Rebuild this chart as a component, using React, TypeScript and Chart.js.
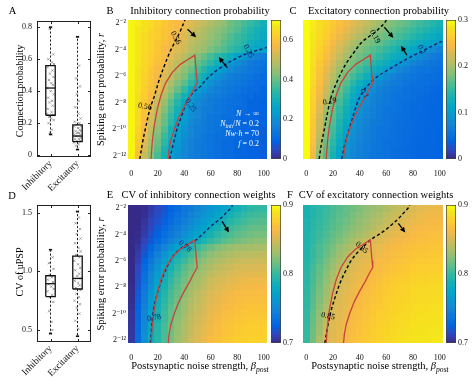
import React, { useEffect, useRef } from 'react';
import { Chart, registerables } from 'chart.js';

Chart.register(...registerables);

const FIG_W = 474;
const FIG_H = 388;
const SERIF = '"Liberation Serif", "DejaVu Serif", "Times New Roman", serif';
Chart.defaults.font.family = SERIF;
Chart.defaults.color = '#000';

// ---------------- Box-plot data (panels A, D) ----------------
const boxCategories = ['Inhibitory', 'Excitatory'];

const connMin = [0.13, 0.035];
const connQ1 = [0.25, 0.085];
const connMedian = [0.42, 0.12];
const connQ3 = [0.56, 0.19];
const connMax = [0.8, 0.74];
const connInhPoints = [0.80, 0.79, 0.63, 0.60, 0.58, 0.57, 0.55, 0.53, 0.51, 0.49, 0.47, 0.45, 0.44, 0.42, 0.40, 0.38, 0.36, 0.34, 0.33, 0.31, 0.29, 0.27, 0.26, 0.25, 0.24, 0.23, 0.22, 0.20, 0.16, 0.14, 0.13];
const connInhJitter = [0.02, -0.03, 0.10, -0.08, 0.05, 0.13, -0.11, 0.07, -0.02, 0.11, -0.06, 0.03, 0.09, -0.12, 0.01, 0.12, -0.09, 0.06, -0.04, 0.08, -0.10, 0.04, -0.13, 0.10, -0.05, 0.02, 0.12, -0.07, 0.05, -0.02, 0.03];
const connExcPoints = [0.74, 0.56, 0.48, 0.43, 0.38, 0.34, 0.30, 0.26, 0.23, 0.21, 0.20, 0.19, 0.18, 0.18, 0.17, 0.16, 0.15, 0.15, 0.14, 0.14, 0.13, 0.13, 0.12, 0.12, 0.11, 0.10, 0.10, 0.09, 0.09, 0.08, 0.07, 0.06, 0.04];
const connExcJitter = [0.01, 0.06, -0.05, 0.09, -0.02, 0.04, -0.08, 0.03, 0.11, -0.10, 0.07, -0.04, 0.13, -0.12, 0.02, 0.09, -0.07, 0.12, -0.01, 0.05, -0.11, 0.10, -0.06, 0.03, 0.12, -0.09, 0.06, -0.03, 0.10, -0.13, 0.04, -0.05, 0.00];
const connTicks = [0, 0.2, 0.4, 0.6, 0.8];
const connTickLabels = ['0', '0.2', '0.4', '0.6', '0.8'];

const cvMin = [0.47, 0.447];
const cvQ1 = [0.785, 0.85];
const cvMedian = [0.895, 0.94];
const cvQ3 = [0.963, 1.13];
const cvMax = [1.185, 1.51];
const cvInhPoints = [1.18, 1.12, 1.07, 1.02, 0.97, 0.95, 0.93, 0.91, 0.89, 0.87, 0.85, 0.83, 0.80, 0.78, 0.74, 0.66, 0.57, 0.50, 0.47];
const cvInhJitter = [0.00, 0.08, -0.06, 0.11, -0.03, 0.05, -0.10, 0.09, -0.07, 0.03, 0.12, -0.11, 0.06, -0.02, 0.10, -0.05, 0.04, 0.07, 0.00];
const cvExcPoints = [1.51, 1.46, 1.41, 1.36, 1.32, 1.28, 1.24, 1.20, 1.17, 1.14, 1.12, 1.09, 1.06, 1.03, 1.01, 0.98, 0.96, 0.94, 0.92, 0.90, 0.88, 0.86, 0.84, 0.81, 0.78, 0.75, 0.72, 0.69, 0.64, 0.58, 0.51, 0.45];
const cvExcJitter = [0.00, 0.05, -0.07, 0.09, -0.03, 0.11, -0.09, 0.04, 0.12, -0.05, 0.07, -0.12, 0.02, 0.10, -0.08, 0.06, -0.01, 0.13, -0.10, 0.03, 0.08, -0.06, 0.11, -0.04, 0.05, -0.11, 0.09, -0.02, 0.07, -0.08, 0.03, 0.00];
const cvTicks = [0.5, 1.0, 1.5];
const cvTickLabels = ['0.5', '1.0', '1.5'];

// ---------------- Heatmap grids (panels B, C, E, F) ----------------
const betaPost = [0, 5, 10, 15, 20, 25, 30, 35, 40, 45, 50, 55, 60, 65, 70, 75, 80, 85, 90, 95, 100];
const log2R = [-2, -2.5, -3, -3.5, -4, -4.5, -5, -5.5, -6, -6.5, -7, -7.5, -8, -8.5, -9, -9.5, -10, -10.5, -11, -11.5, -12];
const betaTicks = [0, 20, 40, 60, 80, 100];
const betaTickLabels = ['0', '20', '40', '60', '80', '100'];
const rTicks = [-2, -4, -6, -8, -10, -12];
const rTickLabels = ['2⁻²', '2⁻⁴', '2⁻⁶', '2⁻⁸', '2⁻¹⁰', '2⁻¹²'];

// B: inhibitory connection probability (x100), rows from r = 2^-2 down to 2^-12
const inhProb = [
  [69, 68, 66, 65, 63, 61, 59, 58, 56, 54, 52, 50, 48, 46, 44, 41, 39, 37, 35, 33, 31],
  [69, 67, 66, 64, 62, 60, 59, 57, 55, 53, 50, 48, 46, 44, 42, 40, 38, 35, 33, 31, 29],
  [69, 67, 65, 63, 62, 60, 58, 56, 54, 51, 49, 47, 45, 43, 41, 38, 36, 34, 32, 30, 28],
  [69, 67, 65, 63, 61, 59, 57, 55, 53, 50, 48, 46, 44, 42, 39, 37, 35, 33, 30, 28, 26],
  [69, 67, 65, 63, 61, 58, 56, 54, 52, 49, 47, 45, 42, 40, 38, 35, 33, 31, 28, 26, 25],
  [69, 67, 64, 62, 60, 58, 55, 52, 49, 46, 43, 40, 37, 34, 32, 29, 26, 22, 19, 17, 15],
  [69, 67, 64, 62, 59, 57, 53, 50, 47, 44, 40, 37, 34, 30, 27, 23, 20, 17, 15, 14, 13],
  [69, 66, 64, 61, 58, 55, 52, 48, 44, 41, 37, 33, 29, 26, 22, 19, 17, 15, 14, 13, 12],
  [69, 66, 63, 60, 57, 54, 50, 46, 42, 37, 33, 29, 25, 21, 18, 16, 15, 14, 13, 12, 11],
  [69, 66, 63, 60, 57, 52, 48, 43, 39, 34, 30, 25, 21, 18, 16, 15, 14, 13, 12, 11, 11],
  [69, 66, 62, 59, 56, 50, 45, 40, 35, 29, 24, 21, 18, 16, 15, 14, 13, 12, 11, 11, 10],
  [69, 65, 62, 58, 53, 48, 42, 36, 31, 25, 21, 18, 16, 15, 14, 13, 12, 11, 11, 10, 10],
  [69, 65, 61, 57, 51, 45, 39, 33, 27, 23, 19, 17, 15, 14, 13, 12, 12, 11, 10, 10, 9],
  [69, 64, 60, 55, 49, 43, 37, 31, 25, 21, 18, 16, 15, 14, 13, 12, 11, 11, 10, 10, 9],
  [69, 64, 59, 54, 48, 41, 35, 29, 24, 20, 18, 16, 14, 13, 12, 12, 11, 10, 10, 9, 9],
  [69, 64, 58, 52, 46, 40, 34, 28, 23, 19, 17, 15, 14, 13, 12, 11, 11, 10, 10, 9, 9],
  [69, 63, 57, 50, 44, 38, 31, 25, 21, 18, 16, 15, 14, 13, 12, 11, 11, 10, 10, 9, 8],
  [69, 62, 55, 49, 42, 36, 30, 24, 20, 18, 16, 14, 13, 12, 12, 11, 10, 10, 9, 9, 8],
  [69, 61, 54, 47, 41, 34, 28, 23, 19, 17, 15, 14, 13, 12, 11, 11, 10, 10, 9, 9, 8],
  [69, 60, 53, 46, 39, 32, 26, 22, 19, 17, 15, 14, 13, 12, 11, 11, 10, 10, 9, 9, 8],
  [69, 59, 51, 44, 37, 31, 24, 21, 18, 16, 15, 14, 13, 12, 11, 11, 10, 10, 9, 9, 8],
];

// C: excitatory connection probability (x1000)
const excProb = [
  [300, 291, 281, 272, 263, 253, 244, 235, 225, 216, 207, 197, 189, 182, 175, 169, 162, 155, 149, 142, 135],
  [300, 290, 279, 269, 259, 248, 238, 227, 217, 207, 196, 187, 180, 173, 166, 159, 153, 146, 139, 132, 125],
  [300, 288, 277, 265, 253, 241, 230, 218, 206, 195, 186, 179, 172, 165, 157, 150, 143, 136, 129, 122, 115],
  [300, 287, 273, 260, 246, 233, 220, 206, 193, 184, 176, 169, 161, 153, 146, 138, 131, 123, 115, 108, 100],
  [300, 285, 270, 255, 240, 225, 210, 195, 184, 175, 166, 158, 149, 140, 131, 123, 114, 105, 94, 82, 73],
  [300, 283, 267, 250, 233, 217, 200, 186, 176, 167, 157, 147, 137, 127, 118, 108, 97, 83, 74, 67, 61],
  [300, 282, 263, 245, 227, 208, 190, 179, 168, 156, 145, 134, 123, 111, 100, 85, 75, 68, 62, 58, 55],
  [300, 280, 259, 239, 219, 198, 182, 169, 156, 143, 130, 117, 104, 89, 78, 70, 64, 59, 56, 53, 51],
  [300, 278, 255, 233, 210, 188, 173, 158, 143, 127, 112, 97, 83, 74, 67, 61, 58, 55, 52, 50, 48],
  [300, 276, 251, 227, 202, 181, 164, 146, 128, 111, 94, 81, 73, 66, 61, 57, 54, 52, 50, 48, 46],
  [300, 273, 246, 220, 193, 172, 153, 133, 114, 96, 82, 73, 66, 61, 57, 54, 52, 50, 47, 45, 44],
  [300, 271, 242, 213, 186, 165, 144, 123, 102, 87, 76, 69, 63, 58, 55, 53, 50, 48, 46, 44, 43],
  [300, 269, 237, 206, 179, 158, 136, 115, 96, 82, 73, 66, 61, 57, 54, 51, 49, 47, 45, 44, 42],
  [300, 266, 231, 197, 172, 150, 129, 107, 89, 78, 70, 64, 59, 56, 53, 50, 48, 46, 44, 43, 42],
  [300, 263, 227, 190, 168, 145, 123, 100, 85, 75, 68, 62, 58, 55, 52, 50, 47, 46, 44, 43, 41],
  [300, 261, 221, 185, 162, 139, 116, 96, 82, 73, 66, 61, 57, 54, 51, 49, 47, 45, 44, 42, 41],
  [300, 259, 218, 183, 158, 134, 110, 91, 79, 71, 64, 59, 56, 53, 50, 48, 46, 45, 43, 42, 40],
  [300, 256, 212, 178, 153, 128, 103, 87, 76, 69, 63, 58, 55, 53, 50, 48, 46, 44, 43, 41, 40],
  [300, 252, 204, 172, 146, 121, 97, 83, 74, 67, 61, 57, 54, 52, 50, 47, 45, 44, 42, 41, 40],
  [300, 248, 195, 166, 140, 113, 92, 80, 72, 65, 60, 56, 53, 51, 48, 46, 45, 43, 42, 40, 39],
  [300, 244, 189, 162, 135, 108, 89, 78, 70, 64, 59, 56, 53, 50, 48, 46, 44, 43, 41, 40, 39],
];

// E: CV of inhibitory connection weights (x1000)
const inhCV = [
  [690, 696, 702, 708, 714, 720, 726, 732, 738, 744, 750, 756, 762, 768, 774, 780, 787, 793, 797, 799, 800],
  [690, 696, 703, 709, 716, 722, 729, 735, 741, 748, 754, 761, 767, 774, 780, 788, 794, 799, 802, 804, 805],
  [691, 698, 705, 712, 718, 725, 732, 739, 746, 753, 760, 766, 773, 780, 788, 795, 800, 804, 808, 809, 810],
  [692, 699, 707, 714, 722, 729, 737, 744, 752, 759, 767, 774, 782, 789, 796, 802, 807, 810, 813, 814, 815],
  [693, 701, 709, 717, 725, 733, 741, 749, 757, 765, 774, 782, 790, 797, 803, 808, 812, 816, 818, 820, 820],
  [694, 703, 712, 721, 730, 739, 748, 757, 766, 775, 783, 792, 799, 805, 811, 815, 819, 822, 824, 826, 826],
  [695, 706, 717, 728, 739, 750, 761, 772, 783, 793, 802, 810, 816, 822, 826, 829, 832, 833, 834, 835, 835],
  [696, 709, 721, 734, 747, 760, 772, 785, 795, 804, 812, 819, 825, 830, 834, 837, 839, 841, 841, 842, 842],
  [697, 711, 726, 740, 754, 769, 782, 794, 803, 812, 820, 826, 832, 836, 840, 843, 845, 847, 848, 848, 848],
  [698, 714, 730, 745, 761, 777, 789, 800, 810, 818, 826, 832, 837, 842, 845, 848, 850, 852, 852, 853, 853],
  [699, 716, 733, 750, 766, 782, 794, 805, 814, 823, 830, 836, 842, 846, 849, 852, 854, 856, 857, 857, 857],
  [700, 718, 736, 753, 771, 786, 798, 809, 818, 827, 834, 840, 846, 850, 853, 856, 858, 860, 861, 861, 861],
  [701, 720, 739, 757, 776, 790, 802, 812, 822, 830, 837, 843, 849, 853, 857, 859, 861, 863, 863, 864, 864],
  [702, 722, 742, 762, 781, 794, 806, 815, 825, 834, 841, 847, 852, 856, 860, 862, 864, 866, 867, 867, 867],
  [703, 724, 745, 765, 784, 797, 808, 818, 828, 836, 843, 849, 854, 858, 862, 864, 866, 868, 869, 869, 869],
  [704, 726, 747, 769, 787, 799, 811, 821, 830, 838, 845, 851, 856, 860, 864, 866, 868, 870, 871, 871, 871],
  [705, 728, 750, 773, 789, 802, 813, 823, 832, 840, 847, 853, 858, 862, 866, 868, 870, 872, 873, 873, 873],
  [705, 728, 752, 775, 791, 803, 815, 825, 834, 842, 849, 855, 860, 864, 868, 870, 872, 874, 875, 875, 875],
  [706, 730, 754, 779, 793, 806, 817, 827, 836, 844, 851, 857, 862, 866, 870, 872, 874, 876, 877, 877, 877],
  [706, 731, 756, 780, 794, 807, 818, 828, 837, 845, 852, 858, 863, 867, 871, 873, 875, 877, 878, 878, 878],
  [707, 732, 758, 782, 795, 808, 819, 830, 839, 847, 854, 860, 865, 869, 873, 875, 877, 879, 880, 880, 880],
];

// F: CV of excitatory connection weights (x1000)
const excCV = [
  [790, 794, 798, 802, 806, 810, 814, 818, 822, 826, 829, 833, 837, 841, 845, 849, 853, 856, 858, 860, 860],
  [790, 794, 798, 803, 807, 811, 815, 820, 824, 828, 832, 836, 841, 845, 849, 853, 856, 859, 861, 862, 862],
  [791, 795, 800, 804, 809, 813, 818, 822, 827, 831, 836, 840, 845, 849, 853, 856, 859, 861, 863, 864, 864],
  [791, 796, 801, 806, 810, 815, 820, 825, 829, 834, 839, 844, 849, 853, 856, 859, 862, 864, 865, 866, 866],
  [792, 797, 803, 808, 813, 818, 824, 829, 834, 839, 845, 850, 854, 857, 860, 862, 864, 866, 867, 868, 868],
  [792, 798, 804, 810, 816, 822, 828, 834, 840, 846, 852, 855, 858, 861, 863, 865, 867, 868, 869, 870, 870],
  [793, 800, 807, 813, 820, 827, 834, 840, 847, 852, 856, 859, 862, 864, 866, 868, 869, 871, 871, 872, 872],
  [793, 801, 808, 816, 823, 831, 838, 846, 852, 855, 858, 861, 864, 866, 868, 870, 872, 873, 873, 874, 874],
  [794, 802, 810, 819, 827, 835, 843, 851, 854, 858, 861, 864, 866, 869, 871, 872, 874, 875, 875, 876, 876],
  [795, 804, 813, 822, 830, 839, 848, 853, 857, 860, 863, 866, 869, 871, 873, 874, 876, 877, 877, 878, 878],
  [796, 806, 815, 825, 835, 844, 852, 856, 859, 862, 866, 868, 871, 873, 875, 876, 878, 879, 879, 880, 880],
  [796, 806, 817, 827, 838, 848, 853, 857, 861, 864, 867, 870, 873, 875, 877, 878, 880, 881, 881, 882, 882],
  [797, 808, 819, 830, 841, 851, 855, 859, 863, 866, 869, 872, 875, 877, 879, 880, 882, 883, 883, 884, 884],
  [797, 809, 821, 832, 844, 852, 856, 860, 864, 867, 870, 873, 876, 878, 880, 881, 883, 884, 884, 885, 885],
  [798, 810, 823, 835, 848, 854, 858, 862, 865, 869, 872, 874, 877, 879, 881, 882, 884, 885, 885, 886, 886],
  [798, 811, 825, 838, 850, 855, 859, 863, 866, 870, 873, 875, 878, 880, 882, 883, 885, 886, 886, 887, 887],
  [799, 813, 827, 842, 852, 856, 860, 864, 868, 871, 874, 877, 879, 881, 883, 884, 886, 887, 887, 888, 888],
  [799, 814, 829, 844, 853, 857, 861, 865, 869, 872, 875, 878, 880, 882, 884, 885, 887, 888, 888, 889, 889],
  [800, 816, 831, 847, 854, 858, 862, 866, 870, 873, 876, 879, 881, 883, 885, 886, 888, 889, 889, 890, 890],
  [800, 817, 833, 850, 855, 859, 863, 867, 871, 874, 877, 880, 882, 884, 886, 887, 889, 890, 890, 891, 891],
  [801, 818, 836, 851, 856, 860, 864, 868, 872, 875, 878, 880, 883, 885, 887, 888, 890, 891, 891, 892, 892],
];

// Contour lines (beta_post, log2 r)
const inhP56X = [6.4, 8.5, 11, 14, 17.4, 21, 25, 29, 32.7, 36.5, 40.5];
const inhP56Y = [-12.25, -11, -9.8, -8.5, -7.5, -6.3, -5.2, -4.2, -3.45, -2.7, -1.75];
const inhP25X = [29, 31.5, 34.5, 38, 41.7, 46, 51.9, 58, 67.2, 80, 90, 100, 103];
const inhP25Y = [-12.25, -11.2, -10, -9, -8, -7.3, -6.8, -6.1, -5.37, -4.6, -4.2, -3.9, -3.8];
const excP19X = [9.6, 11.5, 13.9, 16.2, 18.8, 23.5, 28.9, 35, 41.4, 47, 51.5, 55, 58.5, 60];
const excP19Y = [-12.25, -11, -9.8, -8.6, -7.5, -6.3, -5.2, -4.3, -3.45, -3.0, -2.7, -2.35, -2.0, -1.75];
const excP10X = [26.4, 29, 32.7, 36, 39, 42.5, 46.5, 53, 61.6, 70, 79, 88, 96.8, 103];
const excP10Y = [-12.25, -11.1, -9.8, -8.7, -7.8, -7.15, -6.65, -6.05, -5.5, -5.0, -4.5, -4.05, -3.6, -3.3];
const inhCV78X = [14.4, 15.2, 16.1, 18.3, 21.2, 24.7, 28.9, 33.5, 39.1, 44, 48.8, 54, 59.6, 64, 68.6, 72, 75, 76.5];
const inhCV78Y = [-12.25, -11.2, -10.2, -9.0, -7.96, -7.0, -6.07, -5.4, -4.93, -4.65, -4.42, -3.95, -3.41, -3.05, -2.66, -2.3, -2.0, -1.75];
const excCV85X = [13.9, 16, 18.8, 21.8, 25.2, 29.3, 33.9, 38.5, 42.7, 47.8, 53.5, 59.1, 64, 69.1, 73, 76.6, 77.5];
const excCV85Y = [-12.25, -11, -9.7, -8.7, -7.7, -6.8, -5.94, -5.35, -4.93, -4.42, -4.05, -3.67, -3.25, -2.78, -2.35, -1.95, -1.75];

// Highlighted region (red outline), same in all heatmaps
const regionX = [14.8, 15.8, 17.2, 19.6, 22.5, 26, 31, 37, 42.5, 48, 48.6, 49.3, 49.8, 47, 44, 40, 36, 32.5, 30, 28.5, 27.8, 14.8];
const regionY = [-12.4, -11, -9.8, -8.5, -7.4, -6.5, -5.7, -5.1, -4.75, -4.4, -5.2, -6.0, -6.5, -7.0, -7.6, -8.3, -9.1, -10.0, -10.8, -11.6, -12.4, -12.4];

// Arrows [x0, y0, x1, y1] in data units
const inhProbArrows = [[42.5, -2.45, 49, -3.05], [72.5, -5.35, 66, -4.55]];
const excProbArrows = [[58.5, -2.3, 65.3, -3.1], [75.4, -4.4, 71, -3.7]];
const inhCVArrows = [[68.6, -3.0, 73.8, -3.85]];
const excCVArrows = [[69, -3.15, 74.2, -3.85]];

// ---------------- colour map ----------------
const PARULA = [
  [0.2081, 0.1663, 0.5292], [0.1959, 0.2645, 0.7279], [0.0117, 0.3875, 0.882], [0.0498, 0.4586, 0.8641],
  [0.0793, 0.52, 0.8312], [0.0343, 0.5966, 0.8199], [0.0228, 0.6535, 0.7768], [0.0843, 0.6928, 0.7062],
  [0.2178, 0.725, 0.6193], [0.3953, 0.7459, 0.5244], [0.5709, 0.7485, 0.4494], [0.7184, 0.7411, 0.3905],
  [0.8507, 0.7299, 0.336], [0.9739, 0.7314, 0.2666], [0.988, 0.8066, 0.1794], [0.9589, 0.8949, 0.1132],
  [0.9763, 0.9831, 0.0538],
];
const PARULA_POS = [0, 4, 8, 12, 16, 20, 24, 28, 32, 36, 40, 44, 48, 52, 56, 60, 63].map((v) => v / 63);

function parula(t: number): string {
  const u = Math.max(0, Math.min(1, t));
  let k = 0;
  while (k < PARULA_POS.length - 2 && u > PARULA_POS[k + 1]) k++;
  const f = (u - PARULA_POS[k]) / (PARULA_POS[k + 1] - PARULA_POS[k]);
  const c = PARULA[k].map((v, i) => Math.round(255 * (v + (PARULA[k + 1][i] - v) * f)));
  return `rgb(${c[0]},${c[1]},${c[2]})`;
}

// ---------------- text helpers ----------------
type Run = { t: string; it?: boolean; sub?: boolean; sup?: boolean };
type TextSpec = { x: number; y: number; runs: Run[]; size: number; align?: 'left' | 'center' | 'right'; rot?: number; color?: string };

function drawRich(ctx: CanvasRenderingContext2D, s: TextSpec) {
  ctx.save();
  ctx.translate(s.x, s.y);
  if (s.rot) ctx.rotate((s.rot * Math.PI) / 180);
  ctx.fillStyle = s.color || '#000';
  ctx.textBaseline = 'middle';
  ctx.textAlign = 'left';
  const fonts = s.runs.map((r) => `${r.it ? 'italic ' : ''}${r.sub || r.sup ? (s.size * 0.72).toFixed(1) : s.size}px ${SERIF}`);
  const widths = s.runs.map((r, i) => {
    ctx.font = fonts[i];
    return ctx.measureText(r.t).width;
  });
  const total = widths.reduce((a, b) => a + b, 0);
  let cx = s.align === 'left' ? 0 : s.align === 'right' ? -total : -total / 2;
  s.runs.forEach((r, i) => {
    ctx.font = fonts[i];
    ctx.fillText(r.t, cx, r.sub ? s.size * 0.3 : r.sup ? -s.size * 0.35 : 0);
    cx += widths[i];
  });
  ctx.restore();
}

const textPlugin = (texts: TextSpec[]) => ({
  id: 'figText',
  afterDraw(chart: any) {
    texts.forEach((t) => drawRich(chart.ctx, t));
  },
});

type DataLabel = { x: number; y: number; t: string; rot: number; color: string };
const dataLabelPlugin = (labels: DataLabel[]) => ({
  id: 'dataLabels',
  afterDatasetsDraw(chart: any) {
    const { x, y } = chart.scales;
    labels.forEach((l) =>
      drawRich(chart.ctx, { x: x.getPixelForValue(l.x), y: y.getPixelForValue(l.y), runs: [{ t: l.t }], size: 8, rot: l.rot, color: l.color })
    );
  },
});

const arrowPlugin = (arrows: number[][]) => ({
  id: 'arrows',
  afterDatasetsDraw(chart: any) {
    const { ctx, scales } = chart;
    arrows.forEach(([a, b, c, d]) => {
      const x0 = scales.x.getPixelForValue(a), y0 = scales.y.getPixelForValue(b);
      const x1 = scales.x.getPixelForValue(c), y1 = scales.y.getPixelForValue(d);
      const ang = Math.atan2(y1 - y0, x1 - x0);
      const hl = 5.5, hw = 2.6;
      const bx = x1 - hl * Math.cos(ang), by = y1 - hl * Math.sin(ang);
      ctx.save();
      ctx.strokeStyle = '#000';
      ctx.fillStyle = '#000';
      ctx.lineWidth = 1.3;
      ctx.beginPath();
      ctx.moveTo(x0, y0);
      ctx.lineTo(bx, by);
      ctx.stroke();
      ctx.beginPath();
      ctx.moveTo(x1, y1);
      ctx.lineTo(bx + hw * Math.sin(ang), by - hw * Math.cos(ang));
      ctx.lineTo(bx - hw * Math.sin(ang), by + hw * Math.cos(ang));
      ctx.closePath();
      ctx.fill();
      ctx.restore();
    });
  },
});

const heatPlugin = (grid: number[][], div: number, vmin: number, vmax: number) => ({
  id: 'heat',
  beforeDatasetsDraw(chart: any) {
    const { ctx, chartArea: a, scales } = chart;
    const dx = (betaPost[1] - betaPost[0]) / 2;
    const dy = Math.abs(log2R[1] - log2R[0]) / 2;
    ctx.save();
    ctx.beginPath();
    ctx.rect(a.left, a.top, a.right - a.left, a.bottom - a.top);
    ctx.clip();
    grid.forEach((row, i) =>
      row.forEach((v, j) => {
        const x0 = Math.round(scales.x.getPixelForValue(betaPost[j] - dx));
        const x1 = Math.round(scales.x.getPixelForValue(betaPost[j] + dx));
        const y0 = Math.round(scales.y.getPixelForValue(log2R[i] + dy));
        const y1 = Math.round(scales.y.getPixelForValue(log2R[i] - dy));
        ctx.fillStyle = parula((v / div - vmin) / (vmax - vmin));
        ctx.fillRect(x0, y0, x1 - x0, y1 - y0);
      })
    );
    ctx.restore();
  },
});

const colorbarPlugin = (vmin: number, vmax: number) => ({
  id: 'cbar',
  beforeDatasetsDraw(chart: any) {
    const { ctx, chartArea: a, scales } = chart;
    const n = 64;
    for (let k = 0; k < n; k++) {
      const p0 = scales.y.getPixelForValue(vmin + ((vmax - vmin) * k) / n);
      const p1 = scales.y.getPixelForValue(vmin + ((vmax - vmin) * (k + 1)) / n);
      ctx.fillStyle = parula((k + 0.5) / n);
      ctx.fillRect(a.left, Math.floor(p1), a.right - a.left, Math.ceil(p0) - Math.floor(p1));
    }
    ctx.save();
    ctx.strokeStyle = '#444';
    ctx.lineWidth = 0.7;
    ctx.strokeRect(a.left + 0.35, a.top + 0.35, a.right - a.left - 0.7, a.bottom - a.top - 0.7);
    ctx.restore();
  },
});

const framePlugin = {
  id: 'frame',
  afterDatasetsDraw(chart: any) {
    const { ctx, chartArea: a, scales } = chart;
    ctx.save();
    ctx.strokeStyle = '#222';
    ctx.lineWidth = 1;
    ctx.strokeRect(Math.round(a.left) + 0.5, Math.round(a.top) + 0.5, Math.round(a.right - a.left) - 1, Math.round(a.bottom - a.top) - 1);
    ctx.beginPath();
    scales.y.ticks.forEach((t: any) => {
      const py = Math.round(scales.y.getPixelForValue(t.value)) + 0.5;
      ctx.moveTo(a.left, py);
      ctx.lineTo(a.left + 3, py);
      ctx.moveTo(a.right, py);
      ctx.lineTo(a.right - 3, py);
    });
    scales.x.ticks.forEach((t: any) => {
      const px = Math.round(scales.x.getPixelForValue(t.value)) + 0.5;
      ctx.moveTo(px, a.bottom);
      ctx.lineTo(px, a.bottom - 3);
      ctx.moveTo(px, a.top);
      ctx.lineTo(px, a.top + 3);
    });
    ctx.stroke();
    ctx.restore();
  },
};

// ---------------- chart builders ----------------
type Area = { l: number; t: number; r: number; b: number };
const pts = (xs: number[], ys: number[]) => xs.map((x, i) => ({ x, y: ys[i] }));

const baseOptions = {
  responsive: false,
  animation: false,
  devicePixelRatio: 1,
  events: [] as string[],
  plugins: { legend: { display: false }, tooltip: { enabled: false }, title: { display: false } },
};

function lineDs(data: { x: number; y: number }[], color: string, width: number, dash: number[] = [], tension = 0) {
  return { data, showLine: true, borderColor: color, borderWidth: width, borderDash: dash, pointRadius: 0, tension, fill: false };
}

type BoxPanel = {
  area: Area;
  min: number[]; q1: number[]; med: number[]; q3: number[]; max: number[];
  points: number[][]; jitter: number[][];
  yMin: number; yMax: number; yTicks: number[]; yTickLabels: string[];
  texts: TextSpec[];
};

const BOX_HALF = 0.175;
const CAP_HALF = 0.06;

function boxConfig(p: BoxPanel) {
  const YW = 26, XH = 40;
  const ds: any[] = [];
  boxCategories.forEach((_, i) => {
    const c = i + 1;
    ds.push(lineDs([{ x: c - BOX_HALF, y: p.q1[i] }, { x: c + BOX_HALF, y: p.q1[i] }, { x: c + BOX_HALF, y: p.q3[i] }, { x: c - BOX_HALF, y: p.q3[i] }, { x: c - BOX_HALF, y: p.q1[i] }], '#111', 1.3));
    ds.push(lineDs([{ x: c - BOX_HALF, y: p.med[i] }, { x: c + BOX_HALF, y: p.med[i] }], '#111', 1.3));
    ds.push(lineDs([{ x: c, y: p.q3[i] }, { x: c, y: p.max[i] }], '#222', 1, [2.2, 1.8]));
    ds.push(lineDs([{ x: c, y: p.q1[i] }, { x: c, y: p.min[i] }], '#222', 1, [2.2, 1.8]));
    ds.push(lineDs([{ x: c - CAP_HALF, y: p.max[i] }, { x: c + CAP_HALF, y: p.max[i] }], '#111', 1.6));
    ds.push(lineDs([{ x: c - CAP_HALF, y: p.min[i] }, { x: c + CAP_HALF, y: p.min[i] }], '#111', 1.6));
  });
  boxCategories.forEach((_, i) => {
    ds.push({
      data: p.points[i].map((v, k) => ({ x: i + 1 + p.jitter[i][k], y: v })),
      showLine: false, pointStyle: 'crossRot', pointRadius: 1.6, borderColor: '#8c8c8c', borderWidth: 0.8, backgroundColor: '#8c8c8c',
    });
  });
  return {
    type: 'scatter',
    data: { datasets: ds },
    options: {
      ...baseOptions,
      layout: { padding: { left: p.area.l - YW, top: p.area.t, right: FIG_W - p.area.r, bottom: FIG_H - p.area.b - XH } },
      scales: {
        x: {
          type: 'linear', min: 0.5, max: 2.5,
          afterBuildTicks: (ax: any) => { ax.ticks = boxCategories.map((_, i) => ({ value: i + 1 })); },
          afterFit: (s: any) => { s.height = XH; },
          ticks: { callback: (_v: any, i: number) => boxCategories[i], minRotation: 45, maxRotation: 45, autoSkip: false, padding: 1, font: { family: SERIF, size: 9.5 }, color: '#111' },
          grid: { display: false, drawTicks: false }, border: { display: false },
        },
        y: {
          type: 'linear', min: p.yMin, max: p.yMax,
          afterBuildTicks: (ax: any) => { ax.ticks = p.yTicks.map((v) => ({ value: v })); },
          afterFit: (s: any) => { s.width = YW; },
          ticks: { callback: (_v: any, i: number) => p.yTickLabels[i], padding: 5, autoSkip: false, font: { family: SERIF, size: 8 }, color: '#111' },
          grid: { display: false, drawTicks: false }, border: { display: false },
        },
      },
    },
    plugins: [framePlugin, textPlugin(p.texts)],
  };
}

type LineSpec = { xs: number[]; ys: number[]; color: string };
type HeatPanel = {
  area: Area; grid: number[][]; div: number; vmin: number; vmax: number; showYTicks: boolean;
  contours: LineSpec[]; labels: DataLabel[]; arrows: number[][]; texts: TextSpec[];
};

const REGION_COLOR = '#c9433a';

function heatConfig(p: HeatPanel) {
  const YW = 24, XH = 24;
  const dx = (betaPost[1] - betaPost[0]) / 2;
  const dy = Math.abs(log2R[1] - log2R[0]) / 2;
  const ds: any[] = [lineDs(pts(regionX, regionY), REGION_COLOR, 1.3)];
  p.contours.forEach((c) => ds.push(lineDs(pts(c.xs, c.ys), c.color, 1.4, [3.2, 2.4], 0.35)));
  return {
    type: 'scatter',
    data: { datasets: ds },
    options: {
      ...baseOptions,
      layout: { padding: { left: p.area.l - YW, top: p.area.t, right: FIG_W - p.area.r, bottom: FIG_H - p.area.b - XH } },
      scales: {
        x: {
          type: 'linear', min: betaPost[0] - dx, max: betaPost[betaPost.length - 1] + dx,
          afterBuildTicks: (ax: any) => { ax.ticks = betaTicks.map((v) => ({ value: v })); },
          afterFit: (s: any) => { s.height = XH; },
          ticks: { callback: (_v: any, i: number) => betaTickLabels[i], maxRotation: 0, autoSkip: false, padding: 10, font: { family: SERIF, size: 8 }, color: '#111' },
          grid: { display: false, drawTicks: false }, border: { display: false },
        },
        y: {
          type: 'linear', min: log2R[log2R.length - 1] - dy, max: log2R[0] + dy,
          afterBuildTicks: (ax: any) => { ax.ticks = rTicks.map((v) => ({ value: v })); },
          afterFit: (s: any) => { s.width = YW; },
          ticks: { display: p.showYTicks, callback: (_v: any, i: number) => rTickLabels[i], padding: 2, autoSkip: false, font: { family: SERIF, size: 8 }, color: '#111' },
          grid: { display: false, drawTicks: false }, border: { display: false },
        },
      },
    },
    plugins: [heatPlugin(p.grid, p.div, p.vmin, p.vmax), dataLabelPlugin(p.labels), arrowPlugin(p.arrows), textPlugin(p.texts)],
  };
}

function colorbarConfig(area: Area, vmin: number, vmax: number, ticks: number[], labels: string[]) {
  const YW = 22;
  return {
    type: 'scatter',
    data: { datasets: [] },
    options: {
      ...baseOptions,
      layout: { padding: { left: area.l, top: area.t, right: FIG_W - area.r - YW, bottom: FIG_H - area.b } },
      scales: {
        x: { type: 'linear', display: false, min: 0, max: 1 },
        y: {
          type: 'linear', position: 'right', min: vmin, max: vmax,
          afterBuildTicks: (ax: any) => { ax.ticks = ticks.map((v) => ({ value: v })); },
          afterFit: (s: any) => { s.width = YW; },
          ticks: { callback: (_v: any, i: number) => labels[i], padding: 2, autoSkip: false, font: { family: SERIF, size: 8 }, color: '#111' },
          grid: { display: false, drawTicks: false }, border: { display: false },
        },
      },
    },
    plugins: [colorbarPlugin(vmin, vmax)],
  };
}

// ---------------- panels ----------------
const T = (x: number, y: number, text: string, size: number, extra: Partial<TextSpec> = {}): TextSpec => ({ x, y, runs: [{ t: text }], size, ...extra });
const yLabelRuns: Run[] = [{ t: 'Spiking error probability, ' }, { t: 'r', it: true }];
const xLabelRuns: Run[] = [{ t: 'Postsynaptic noise strength, ' }, { t: 'β', it: true }, { t: 'post', it: true, sub: true }];
const NAVY = '#16246b';

const panelA: BoxPanel = {
  area: { l: 37, t: 21, r: 91, b: 157 },
  min: connMin, q1: connQ1, med: connMedian, q3: connQ3, max: connMax,
  points: [connInhPoints, connExcPoints], jitter: [connInhJitter, connExcJitter],
  yMin: -0.011, yMax: 0.839, yTicks: connTicks, yTickLabels: connTickLabels,
  texts: [T(12.5, 11, 'A', 10.5), T(20, 91, 'Connection probability', 10, { rot: -90 })],
};

const panelD: BoxPanel = {
  area: { l: 37, t: 205, r: 91, b: 342 },
  min: cvMin, q1: cvQ1, med: cvMedian, q3: cvQ3, max: cvMax,
  points: [cvInhPoints, cvExcPoints], jitter: [cvInhJitter, cvExcJitter],
  yMin: 0.398, yMax: 1.566, yTicks: cvTicks, yTickLabels: cvTickLabels,
  texts: [T(12, 196, 'D', 10.5), T(20, 272, 'CV of uPSP', 10, { rot: -90 })],
};

const panelB: HeatPanel = {
  area: { l: 128, t: 20, r: 267, b: 159 }, grid: inhProb, div: 100, vmin: 0, vmax: 0.7, showYTicks: true,
  contours: [{ xs: inhP56X, ys: inhP56Y, color: '#000' }, { xs: inhP25X, ys: inhP25Y, color: NAVY }],
  labels: [
    { x: 33.5, y: -3.1, t: '0.56', rot: 62, color: '#000' },
    { x: 10.3, y: -8.3, t: '0.56', rot: 10, color: '#000' },
    { x: 44.8, y: -8.2, t: '0.25', rot: 55, color: NAVY },
    { x: 88.5, y: -4.1, t: '0.25', rot: 62, color: NAVY },
  ],
  arrows: inhProbArrows,
  texts: [
    T(110, 11, 'B', 10.5),
    T(200, 11, 'Inhibitory connection probability', 10.5),
    { x: 101.5, y: 89.5, runs: yLabelRuns, size: 10.5, rot: -90 },
    { x: 259, y: 114, runs: [{ t: 'N', it: true }, { t: ' → ∞' }], size: 8, align: 'right', color: '#fff' },
    { x: 259, y: 124.3, runs: [{ t: 'N', it: true }, { t: 'inh', it: true, sub: true }, { t: '/' }, { t: 'N', it: true }, { t: ' = 0.2' }], size: 8, align: 'right', color: '#fff' },
    { x: 259, y: 134.3, runs: [{ t: 'Nw', it: true }, { t: '·' }, { t: 'h', it: true }, { t: ' = 70' }], size: 8, align: 'right', color: '#fff' },
    { x: 259, y: 143.5, runs: [{ t: 'f', it: true }, { t: ' = 0.2' }], size: 8, align: 'right', color: '#fff' },
  ],
};

const panelC: HeatPanel = {
  area: { l: 303, t: 20, r: 443, b: 159 }, grid: excProb, div: 1000, vmin: 0, vmax: 0.3, showYTicks: false,
  contours: [{ xs: excP19X, ys: excP19Y, color: '#000' }, { xs: excP10X, ys: excP10Y, color: NAVY }],
  labels: [
    { x: 51.5, y: -3.0, t: '0.19', rot: 62, color: '#000' },
    { x: 17.5, y: -7.9, t: '0.19', rot: -10, color: '#000' },
    { x: 43.5, y: -7.3, t: '0.1', rot: 62, color: NAVY },
    { x: 86.5, y: -4.0, t: '0.1', rot: 62, color: NAVY },
  ],
  arrows: excProbArrows,
  texts: [T(293, 11, 'C', 10.5), T(378.5, 11, 'Excitatory connection probability', 10.5)],
};

const panelE: HeatPanel = {
  area: { l: 128, t: 205, r: 267, b: 343 }, grid: inhCV, div: 1000, vmin: 0.7, vmax: 0.9, showYTicks: true,
  contours: [{ xs: inhCV78X, ys: inhCV78Y, color: NAVY }],
  labels: [
    { x: 40.5, y: -4.9, t: '0.78', rot: 40, color: NAVY },
    { x: 17.3, y: -10.35, t: '0.78', rot: -12, color: NAVY },
  ],
  arrows: inhCVArrows,
  texts: [
    T(110, 195, 'E', 10.5),
    T(198.5, 195, 'CV of inhibitory connection weights', 10.5),
    { x: 101.5, y: 274, runs: yLabelRuns, size: 10.5, rot: -90 },
    { x: 200, y: 366.5, runs: xLabelRuns, size: 10.5 },
  ],
};

const panelF: HeatPanel = {
  area: { l: 303, t: 205, r: 443, b: 343 }, grid: excCV, div: 1000, vmin: 0.7, vmax: 0.9, showYTicks: false,
  contours: [{ xs: excCV85X, ys: excCV85Y, color: '#000' }],
  labels: [
    { x: 41.5, y: -5.0, t: '0.85', rot: 40, color: '#000' },
    { x: 16.2, y: -10.2, t: '0.85', rot: 12, color: '#000' },
  ],
  arrows: excCVArrows,
  texts: [
    T(290, 195, 'F', 10.5),
    T(376, 195, 'CV of excitatory connection weights', 10.5),
    { x: 380, y: 366.5, runs: xLabelRuns, size: 10.5 },
  ],
};

const cbTicksB = [0, 0.2, 0.4, 0.6];
const cbLabelsB = ['0', '0.2', '0.4', '0.6'];
const cbTicksC = [0, 0.1, 0.2, 0.3];
const cbLabelsC = ['0', '0.1', '0.2', '0.3'];
const cbTicksCV = [0.7, 0.8, 0.9];
const cbLabelsCV = ['0.7', '0.8', '0.9'];

function ChartLayer({ make }: { make: () => any }) {
  const ref = useRef<HTMLCanvasElement>(null);
  useEffect(() => {
    const chart = new Chart(ref.current as HTMLCanvasElement, make());
    return () => chart.destroy();
  }, []);
  return (
    <canvas
      ref={ref}
      width={FIG_W}
      height={FIG_H}
      style={{ position: 'absolute', left: 0, top: 0, width: FIG_W, height: FIG_H, pointerEvents: 'none' }}
    />
  );
}

export default function App() {
  return (
    <div style={{ position: 'fixed', left: 0, top: 0, width: FIG_W, height: FIG_H, background: '#fff', overflow: 'hidden' }}>
      <ChartLayer make={() => heatConfig(panelB)} />
      <ChartLayer make={() => colorbarConfig({ l: 271, t: 20, r: 281, b: 159 }, 0, 0.7, cbTicksB, cbLabelsB)} />
      <ChartLayer make={() => heatConfig(panelC)} />
      <ChartLayer make={() => colorbarConfig({ l: 446, t: 20, r: 456, b: 159 }, 0, 0.3, cbTicksC, cbLabelsC)} />
      <ChartLayer make={() => heatConfig(panelE)} />
      <ChartLayer make={() => colorbarConfig({ l: 271, t: 205, r: 281, b: 343 }, 0.7, 0.9, cbTicksCV, cbLabelsCV)} />
      <ChartLayer make={() => heatConfig(panelF)} />
      <ChartLayer make={() => colorbarConfig({ l: 446, t: 205, r: 456, b: 343 }, 0.7, 0.9, cbTicksCV, cbLabelsCV)} />
      <ChartLayer make={() => boxConfig(panelA)} />
      <ChartLayer make={() => boxConfig(panelD)} />
    </div>
  );
}
